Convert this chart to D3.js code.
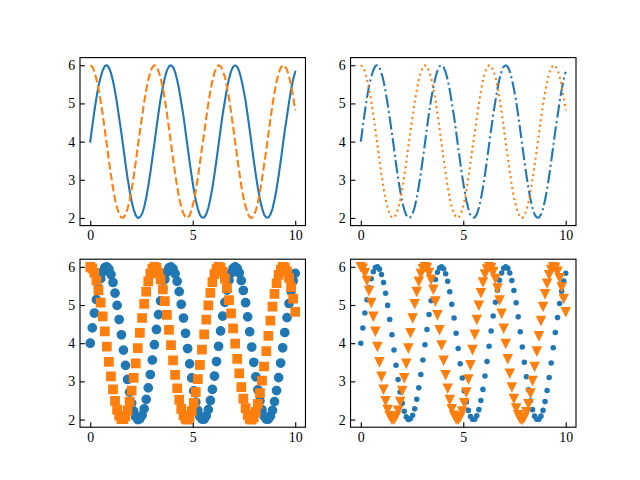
<!DOCTYPE html>
<html>
<head>
<meta charset="utf-8">
<script src="https://cdn.jsdelivr.net/npm/d3@7"></script>
<style>
  html, body { margin: 0; padding: 0; background: #fff; }
  svg { display: block; }
  text { font-family: "Liberation Serif", "Times New Roman", serif; }
</style>
</head>
<body>
<svg id="chart" width="640" height="480"></svg>
<script>
// ---- data ----
const xValues = [0.00,0.10,0.20,0.30,0.40,0.51,0.61,0.71,0.81,0.91,1.01,1.11,1.21,1.31,1.41,1.52,1.62,1.72,1.82,1.92,
  2.02,2.12,2.22,2.32,2.42,2.53,2.63,2.73,2.83,2.93,3.03,3.13,3.23,3.33,3.43,3.54,3.64,3.74,3.84,3.94,
  4.04,4.14,4.24,4.34,4.44,4.55,4.65,4.75,4.85,4.95,5.05,5.15,5.25,5.35,5.45,5.56,5.66,5.76,5.86,5.96,
  6.06,6.16,6.26,6.36,6.46,6.57,6.67,6.77,6.87,6.97,7.07,7.17,7.27,7.37,7.47,7.58,7.68,7.78,7.88,7.98,
  8.08,8.18,8.28,8.38,8.48,8.59,8.69,8.79,8.89,8.99,9.09,9.19,9.29,9.39,9.49,9.60,9.70,9.80,9.90,10.00];
const blueValues = [4.00,4.40,4.79,5.14,5.45,5.69,5.87,5.98,6.00,5.94,5.80,5.59,5.31,4.99,4.62,4.22,3.82,3.42,3.05,2.72,
  2.43,2.22,2.07,2.00,2.02,2.11,2.28,2.53,2.83,3.18,3.56,3.96,4.36,4.75,5.11,5.42,5.67,5.86,5.97,6.00,
  5.95,5.82,5.62,5.35,5.02,4.66,4.26,3.86,3.46,3.09,2.75,2.46,2.24,2.08,2.01,2.01,2.10,2.26,2.50,2.79,
  3.14,3.52,3.92,4.32,4.71,5.07,5.39,5.65,5.84,5.96,6.00,5.96,5.84,5.64,5.38,5.06,4.69,4.30,3.90,3.50,
  3.12,2.78,2.49,2.26,2.09,2.01,2.01,2.09,2.24,2.47,2.76,3.10,3.48,3.88,4.28,4.67,5.04,5.36,5.63,5.83];
const orangeValues = [6.00,5.96,5.84,5.64,5.38,5.06,4.70,4.31,3.91,3.51,3.13,2.79,2.49,2.26,2.10,2.01,2.01,2.09,2.24,2.47,
  2.76,3.09,3.47,3.87,4.27,4.66,5.03,5.35,5.62,5.82,5.95,6.00,5.97,5.85,5.67,5.41,5.10,4.74,4.35,3.95,
  3.55,3.17,2.82,2.52,2.28,2.11,2.02,2.00,2.07,2.22,2.44,2.72,3.06,3.43,3.83,4.23,4.62,4.99,5.32,5.60,
  5.81,5.94,6.00,5.97,5.87,5.69,5.44,5.13,4.78,4.39,3.99,3.59,3.21,2.85,2.55,2.30,2.12,2.02,2.00,2.06,
  2.20,2.41,2.69,3.02,3.39,3.79,4.19,4.59,4.96,5.29,5.57,5.79,5.93,6.00,5.98,5.88,5.71,5.47,5.17,4.82];
const xTicks = [0, 5, 10];
const yTicks = [2, 3, 4, 5, 6];

(function () {
const BLUE = "#1f77b4", ORANGE = "#ff7f0e";
const PT = 100 / 72;

const svg = d3.select("#chart");
const W = 640, H = 480;
const figL = 0.125 * W, figR = 0.9 * W, figT = (1 - 0.88) * H, figB = (1 - 0.11) * H;
const aw = (figR - figL) / 2.2, ah = (figB - figT) / 2.2;

const data = xValues.map((x, i) => ({ x, b: blueValues[i], o: orangeValues[i] }));

const panels = [
  { r: 0, c: 0, kind: "line", styles: [{ key: "b", color: BLUE, dash: null }, { key: "o", color: ORANGE, dash: [3.7 * 1.5, 1.6 * 1.5] }] },
  { r: 0, c: 1, kind: "line", styles: [{ key: "b", color: BLUE, dash: [6.4 * 1.5, 1.6 * 1.5, 1 * 1.5, 1.6 * 1.5] }, { key: "o", color: ORANGE, dash: [1 * 1.5, 1.65 * 1.5] }] },
  { r: 1, c: 0, kind: "marker", styles: [{ key: "b", color: BLUE, marker: "o" }, { key: "o", color: ORANGE, marker: "s" }] },
  { r: 1, c: 1, kind: "marker", styles: [{ key: "b", color: BLUE, marker: "." }, { key: "o", color: ORANGE, marker: "v" }] }
];

function markerPath(m) {
  const s = 6 * PT;
  if (m === "o") { const r = s / 2; return d3.symbol(d3.symbolCircle, Math.PI * r * r)(); }
  if (m === ".") { const r = s / 4; return d3.symbol(d3.symbolCircle, Math.PI * r * r)(); }
  if (m === "s") { const h = s / 2; return `M${-h},${-h}L${h},${-h}L${h},${h}L${-h},${h}Z`; }
  if (m === "v") { const h = s / 2; return `M0,${h}L${-h},${-h}L${h},${-h}Z`; }
}

panels.forEach((p, idx) => {
  const x0 = figL + p.c * aw * 1.2;
  const y0 = figT + p.r * ah * 1.2;
  const g = svg.append("g").attr("transform", `translate(${x0},${y0})`);
  const xs = d3.scaleLinear().domain([-0.5, 10.5]).range([0, aw]);
  const ys = d3.scaleLinear().domain([1.8, 6.2]).range([ah, 0]);

  const clipId = "clip" + idx;
  g.append("clipPath").attr("id", clipId).append("rect").attr("width", aw).attr("height", ah);
  const plot = g.append("g").attr("clip-path", `url(#${clipId})`);

  p.styles.forEach(st => {
    if (p.kind === "line") {
      const line = d3.line().x(d => xs(d.x)).y(d => ys(d[st.key]));
      plot.append("path").datum(data)
        .attr("d", line)
        .attr("fill", "none")
        .attr("stroke", st.color)
        .attr("stroke-width", 1.5 * PT)
        .attr("stroke-linejoin", "round")
        .attr("stroke-linecap", st.dash ? "butt" : "square")
        .attr("stroke-dasharray", st.dash ? st.dash.map(v => v * PT).join(",") : null);
    } else {
      const path = markerPath(st.marker);
      plot.append("g").selectAll("path").data(data).join("path")
        .attr("transform", d => `translate(${xs(d.x)},${ys(d[st.key])})`)
        .attr("d", path)
        .attr("fill", st.color)
        .attr("stroke", st.color)
        .attr("stroke-width", 1 * PT)
        .attr("stroke-linejoin", "miter");
    }
  });

  const tickLen = 3.5 * PT, pad = 3.5 * PT;
  const xAxis = g.append("g").attr("transform", `translate(0,${ah})`)
    .call(d3.axisBottom(xs).tickValues(xTicks).tickFormat(d3.format("d")).tickSizeInner(-tickLen).tickSizeOuter(0).tickPadding(pad));
  const yAxis = g.append("g")
    .call(d3.axisLeft(ys).tickValues(yTicks).tickFormat(d3.format("d")).tickSizeInner(-tickLen).tickSizeOuter(0).tickPadding(pad));
  [xAxis, yAxis].forEach(a => {
    a.select(".domain").remove();
    a.selectAll(".tick line").attr("stroke", "#000").attr("stroke-width", 0.8 * PT);
    a.selectAll(".tick text").attr("fill", "#000").style("font-family", '"Liberation Serif", "Times New Roman", serif').style("font-size", (10 * PT) + "px");
  });

  g.append("rect").attr("width", aw).attr("height", ah)
    .attr("fill", "none").attr("stroke", "#000").attr("stroke-width", 0.8 * PT);
});
})();
</script>
</body>
</html>
